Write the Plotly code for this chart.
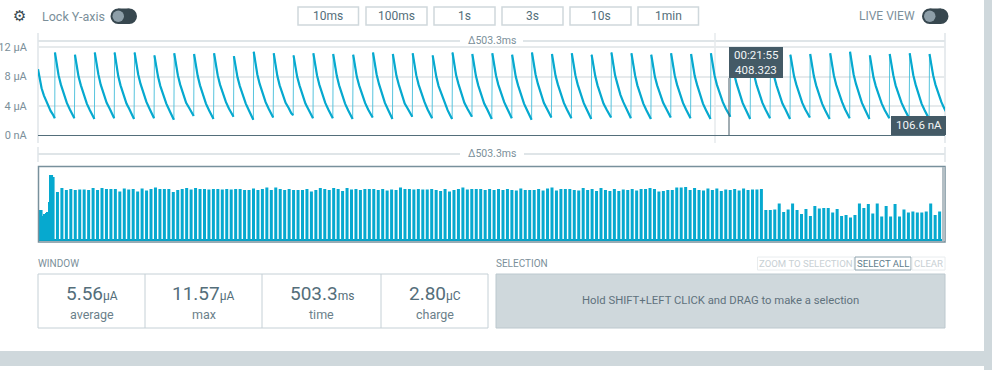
import plotly.graph_objects as go

W, H = 992, 370
FONT = "Roboto"
TEAL = "#06a9cf"
DARK = "#445a66"
GREY = "#7b8f9a"

# ---- top chart data ----
first_times_ms = [0.0, 0.9, 2.0, 3.3, 4.6, 5.8, 7.0, 8.3, 9.3]
first_values = [9.0, 7.6, 6.4, 5.4, 4.6, 3.9, 3.3, 2.8, 2.3]
sample_offsets_ms = [0.0, 0.9, 2.0, 3.3, 5.0, 6.6, 8.3, 9.7, 10.8]
peak_times_ms = [9.4, 20.5, 31.5, 42.5, 53.6, 64.6, 75.6, 86.6, 97.7, 108.7, 119.7, 130.8, 141.8, 152.8, 163.8,
                 174.9, 185.9, 196.9, 207.9, 219.0, 230.0, 241.0, 252.1, 263.1, 274.1, 285.2, 296.2, 307.2, 318.2,
                 329.3, 340.3, 351.3, 362.4, 373.4, 384.4, 395.4, 406.5, 417.5, 428.5, 439.6, 450.6, 461.6, 472.6,
                 483.7, 494.7]
cycles_uA = [
    [11.3, 9.7, 8.2, 6.9, 5.5, 4.4, 3.5, 2.8, 2.3], [11.0, 9.6, 8.0, 6.8, 5.4, 4.3, 3.4, 2.7, 2.2],
    [11.3, 9.8, 8.3, 6.9, 5.6, 4.4, 3.6, 2.8, 2.3], [11.3, 9.7, 8.1, 6.8, 5.4, 4.3, 3.5, 2.7, 2.2],
    [11.3, 9.8, 8.3, 7.0, 5.6, 4.5, 3.6, 2.8, 2.3], [10.9, 9.5, 8.0, 6.7, 5.4, 4.3, 3.4, 2.7, 2.1],
    [11.2, 9.7, 8.2, 6.9, 5.5, 4.4, 3.7, 3.0, 2.6], [11.1, 9.6, 8.1, 6.8, 5.5, 4.3, 3.4, 2.7, 2.2],
    [11.2, 9.7, 8.2, 6.9, 5.6, 4.5, 3.6, 2.9, 2.5], [10.8, 9.4, 7.9, 6.7, 5.4, 4.3, 3.4, 2.7, 2.1],
    [11.4, 9.9, 8.3, 7.0, 5.6, 4.5, 3.6, 2.9, 2.4], [11.2, 9.7, 8.1, 6.8, 5.6, 4.4, 3.7, 3.0, 2.7],
    [10.9, 9.5, 8.0, 6.8, 5.4, 4.3, 3.5, 2.8, 2.3], [11.2, 9.7, 8.2, 6.9, 5.5, 4.4, 3.5, 2.8, 2.3],
    [11.1, 9.6, 8.1, 6.8, 5.5, 4.3, 3.4, 2.7, 2.2], [11.0, 9.5, 8.0, 6.8, 5.5, 4.4, 3.5, 2.8, 2.4],
    [11.3, 9.8, 8.3, 7.0, 5.6, 4.4, 3.5, 2.8, 2.2], [11.1, 9.6, 8.1, 6.9, 5.4, 4.3, 3.6, 2.9, 2.5],
    [11.2, 9.7, 8.2, 6.9, 5.5, 4.5, 3.5, 2.7, 2.3], [10.9, 9.5, 8.0, 6.7, 5.5, 4.3, 3.4, 2.7, 2.2],
    [11.3, 9.8, 8.2, 7.0, 5.6, 4.4, 3.6, 2.9, 2.5], [11.1, 9.6, 8.1, 6.8, 5.4, 4.3, 3.5, 2.7, 2.2],
    [11.2, 9.7, 8.2, 6.9, 5.6, 4.5, 3.6, 2.8, 2.3], [11.0, 9.5, 8.0, 6.8, 5.4, 4.3, 3.4, 2.7, 2.1],
    [11.3, 9.8, 8.3, 7.0, 5.5, 4.4, 3.6, 2.9, 2.4], [11.1, 9.6, 8.1, 6.9, 5.5, 4.4, 3.5, 2.8, 2.3],
    [11.2, 9.7, 8.2, 6.9, 5.6, 4.4, 3.5, 2.7, 2.2], [11.0, 9.6, 8.1, 6.8, 5.4, 4.3, 3.5, 2.8, 2.4],
    [11.3, 9.8, 8.2, 7.0, 5.5, 4.5, 3.6, 2.8, 2.3], [11.2, 9.7, 8.2, 6.8, 5.5, 4.3, 3.4, 2.7, 2.2],
    [11.0, 9.5, 8.0, 6.8, 5.5, 4.4, 3.6, 2.9, 2.4], [11.2, 9.7, 8.2, 6.9, 5.6, 4.4, 3.5, 2.8, 2.3],
    [11.1, 9.6, 8.1, 6.9, 5.4, 4.3, 3.4, 2.7, 2.2], [11.2, 9.7, 8.2, 6.9, 5.5, 4.5, 3.6, 2.9, 2.5],
    [11.3, 9.8, 8.3, 7.0, 5.6, 4.4, 3.5, 2.7, 2.2], [11.3, 9.8, 8.2, 6.9, 5.5, 4.4, 3.5, 2.8, 2.3],
    [11.0, 9.5, 8.0, 6.8, 5.4, 4.3, 3.5, 2.7, 2.2], [11.0, 9.6, 8.1, 6.9, 5.5, 4.4, 3.5, 2.9, 2.4],
    [11.1, 9.6, 8.1, 6.8, 5.5, 4.3, 3.4, 2.7, 2.2], [11.2, 9.7, 8.2, 6.9, 5.6, 4.5, 3.5, 2.8, 2.3],
    [11.4, 9.9, 8.3, 7.0, 5.6, 4.4, 3.5, 2.8, 2.2], [10.9, 9.4, 7.9, 6.7, 5.4, 4.3, 3.4, 2.7, 2.3],
    [11.1, 9.7, 8.2, 6.8, 5.5, 4.4, 3.5, 2.8, 2.3], [11.2, 9.8, 8.2, 6.9, 5.5, 4.3, 3.4, 2.7, 2.2],
    [11.1, 9.6, 8.2, 6.9, 5.6, 4.5, 3.6, 2.9, 2.5],
]

# ---- overview data ----
intro_heights = [30, 30, 30, 24, 26, 27, 28, 38, 65, 65, 63]
main_heights = [
    48, 52, 50, 51, 50, 50.5, 50.5, 50, 52, 50, 52, 51, 51, 51, 48.5, 51.5, 50.5, 51, 48.5, 51.5,
    49.5, 51, 52.5, 51, 51, 51, 48, 50, 51, 52, 50.5, 52, 51, 51, 50.5, 51, 51, 50.5, 51, 50.5,
    51, 51, 50, 50, 51.5, 50, 51, 52.5, 50, 52.5, 51, 50, 51, 50, 50, 50, 51, 48.5, 50, 52,
    51, 50, 52, 51, 49, 52, 50.5, 51, 50, 51, 51, 51, 50, 51, 49.5, 50.5, 50, 52.5, 51, 51,
    50.5, 51, 50.5, 50.5, 51, 50, 49, 51, 48.5, 50, 51, 52.5, 50.5, 51, 51, 51, 50, 51, 50, 51,
    50, 51, 50, 49.5, 51.5, 50, 50, 50, 51, 49.5, 51.5, 52.5, 49.5, 51, 51, 51, 50, 49.5, 52, 50,
    51, 49, 52, 50, 49, 51, 49, 50.5, 50, 51, 49.5, 51, 51, 52,
    51, 48.5, 49, 50, 50, 52.5, 52.5, 53, 50, 52, 50, 49.5, 51.5, 50, 51.5, 49, 50.5, 50, 51, 49.5,
    51.5, 50, 50.5, 50.5, 51,
]
tail_heights = [
    30, 30, 30.5, 36.5, 28, 30.5, 36.5, 30, 26, 31, 24, 34, 31.5, 32, 32, 27.5, 31, 24, 25, 22.5,
    25, 36.5, 32, 36, 26.5, 36.5, 23.5, 34, 23.5, 36, 23.5, 30.5, 27.5, 28.5, 27.5, 27.5, 28.5, 36.5,
    25, 28.5, 29.5,
]

# ---- UI text ----
speed_labels = ["10ms", "100ms", "1s", "3s", "10s", "1min"]
stat_values = ["5.56", "11.57", "503.3", "2.80"]
stat_units = ["µA", "µA", "ms", "µC"]
stat_names = ["average", "max", "time", "charge"]
y_tick_vals = [0, 4, 8, 12]
y_tick_text = ["0 nA", "4 µA", "8 µA", "12 µA"]

# build sawtooth
all_x, all_y, dec_x, dec_y = list(first_times_ms), list(first_values), list(first_times_ms) + [None], list(first_values) + [None]
for start, vals in zip(peak_times_ms, cycles_uA):
    xs = [start + o for o in sample_offsets_ms]
    all_x += xs
    all_y += vals
    dec_x += xs + [None]
    dec_y += vals + [None]

fig = go.Figure()
fig.add_trace(go.Scatter(x=all_x, y=all_y, mode="lines", line=dict(color="#58c5de", width=1), xaxis="x", yaxis="y", hoverinfo="skip"))
fig.add_trace(go.Scatter(x=dec_x, y=dec_y, mode="lines", line=dict(color=TEAL, width=2.2), xaxis="x", yaxis="y", hoverinfo="skip"))

UNIT_PX = 4.42
n_intro = len(intro_heights)
fig.add_trace(go.Bar(x=[(i + 0.5) * 0.34 for i in range(n_intro)], y=intro_heights, width=0.36,
                     marker=dict(color=TEAL, line_width=0), xaxis="x2", yaxis="y2", hoverinfo="skip"))
bars = main_heights + tail_heights
fig.add_trace(go.Bar(x=[4.4 + i * 1.008 for i in range(len(bars))], y=bars, width=0.68,
                     marker=dict(color=TEAL, line_width=0), xaxis="x2", yaxis="y2", hoverinfo="skip"))


def px(x):
    return x / W


def py(y):
    return 1 - y / H


shapes, anns = [], []


def rect(x0, y0, x1, y1, fill=None, line=None, lw=1, layer="below"):
    shapes.append(dict(type="rect", xref="paper", yref="paper", x0=px(x0), x1=px(x1), y0=py(y0), y1=py(y1),
                       fillcolor=fill or "rgba(0,0,0,0)", line=dict(color=line or "rgba(0,0,0,0)", width=lw if line else 0), layer=layer))


def seg(x0, y0, x1, y1, color, lw=1, layer="below"):
    shapes.append(dict(type="line", xref="paper", yref="paper", x0=px(x0), x1=px(x1), y0=py(y0), y1=py(y1),
                       line=dict(color=color, width=lw), layer=layer))


def circle(x0, y0, x1, y1, fill):
    shapes.append(dict(type="circle", xref="paper", yref="paper", x0=px(x0), x1=px(x1), y0=py(y0), y1=py(y1),
                       fillcolor=fill, line_width=0, layer="above"))


def text(x, y, s, size=12, color=GREY, anchor="center", family=FONT):
    anns.append(dict(xref="paper", yref="paper", x=px(x), y=py(y), text=s, showarrow=False, xanchor=anchor, yanchor="middle",
                     font=dict(family=family, size=size, color=color), borderpad=0, borderwidth=0))


# page background elements
rect(0, 351, 992, 366, fill="#cfd8dc")
rect(984, 0, 992, 370, fill="#cfd8dc")

# header
text(19.5, 16, "⚙", 15, "#37474f", family="DejaVu Sans")
text(42, 16, "Lock Y-axis", 12.5, GREY, "left")
text(859, 16, "LIVE VIEW", 12, GREY, "left")
for x0 in (110.5, 922):
    circle(x0, 8.5, x0 + 15.5, 24, "#37474f")
    circle(x0 + 11, 8.5, x0 + 26.5, 24, "#37474f")
    rect(x0 + 7.7, 8.5, x0 + 18.8, 24, fill="#37474f", layer="above")
    circle(x0 + 2, 10.5, x0 + 13.5, 22, "#8d9ea8")

btn_x = [(298, 358.5), (366, 427), (434, 495), (502, 563), (570, 631), (638, 698.5)]
for (a, b), lab in zip(btn_x, speed_labels):
    rect(a, 7, b, 25, fill="white", line="#cfd8dc", lw=1.5)
    text((a + b) / 2, 16, lab, 12, "#546e7a")

# delta bars
seg(38, 41, 945, 41, "#dfe5e8", 2)
seg(38, 154, 945, 154, "#dfe5e8", 2)
seg(38, 33, 38, 143, "#dfe5e8", 1.5)
seg(945, 33, 945, 143, "#dfe5e8", 1.5)
seg(38, 147, 38, 162, "#dfe5e8", 1.5)
seg(945, 147, 945, 162, "#dfe5e8", 1.5)
seg(715, 33, 715, 143, "#e6eaec", 1.5)
rect(460, 35, 523, 47, fill="white")
rect(460, 148, 524, 160, fill="white")
text(492, 40.5, "Δ503.3ms", 10.5, GREY)
text(492, 153, "Δ503.3ms", 10.5, GREY)

# cursor + value boxes (on top of data)
seg(729, 78, 729, 135, "#445a66", 1, "above")
rect(729, 47, 783, 78, fill=DARK, layer="above")
text(756, 55, "00:21:55", 11.5, "#f2f5f6")
text(756, 70, "408.323", 11.5, "#f2f5f6")
rect(891, 116, 946, 135, fill=DARK, layer="above")
text(918.5, 125, "106.6 nA", 11.5, "#f2f5f6")

# overview frame
rect(38.5, 166.5, 945, 242, line="#78909c", lw=1.5, layer="above")
rect(942, 167, 945, 241, fill="#b4bfc5", layer="above")

# stats
text(38, 263, "WINDOW", 10, GREY, "left")
text(496, 263, "SELECTION", 10, GREY, "left")
rect(38, 274, 488, 328, line="#c5d0d6", lw=1)
for xd in (145, 262, 381):
    seg(xd, 274, xd, 328, "#c5d0d6", 1)
centers = [91.5, 203.5, 321.5, 434.5]
for cx, v, u, nm in zip(centers, stat_values, stat_units, stat_names):
    text(cx, 293, f'<span style="font-size:19px">{v}</span><span style="font-size:12px">{u}</span>', 19, "#546e7a")
    text(cx, 314, nm, 12.5, "#6b7f8a")

# selection panel
rect(496, 274, 945, 328, fill="#cfd8dc", line="#bcc8ce", lw=1)
text(720.5, 300.5, "Hold SHIFT+LEFT CLICK and DRAG to make a selection", 11.3, "#5f727c")
rect(757.5, 257, 854, 270, line="#e8ecee", lw=1)
rect(855, 257, 911, 270, line="#90a4ae", lw=1)
rect(912, 257, 945, 270, line="#e8ecee", lw=1)
text(806, 263.5, "ZOOM TO SELECTION", 9.6, "#c8d0d4")
text(883, 263.5, "SELECT ALL", 9.6, "#607d8b")
text(928.5, 263.5, "CLEAR", 9.6, "#c8d0d4")

PX_PER_UA = 7.3
fig.update_layout(
    width=W, height=H, margin=dict(l=0, r=0, t=0, b=0, autoexpand=False), autosize=False,
    paper_bgcolor="white", plot_bgcolor="rgba(0,0,0,0)", showlegend=False, barmode="overlay",
    shapes=shapes, annotations=anns,
    xaxis=dict(domain=[px(38), px(945)], range=[0, 503.3], visible=False, fixedrange=True, automargin=False),
    yaxis=dict(domain=[py(143), py(33)], range=[-8 / PX_PER_UA, 102 / PX_PER_UA], tickvals=y_tick_vals, ticktext=y_tick_text,
               showgrid=True, gridcolor="#e6eaec", gridwidth=1.5, zeroline=True, zerolinecolor="#546e7a", zerolinewidth=1,
               ticks="outside", ticklen=8, tickcolor="rgba(0,0,0,0)", showline=False, automargin=False,
               tickfont=dict(family=FONT, size=11, color=GREY), fixedrange=True),
    xaxis2=dict(domain=[px(38), px(945)], range=[0, 907 / UNIT_PX], visible=False, anchor="y2", fixedrange=True, automargin=False),
    yaxis2=dict(domain=[py(241), py(167)], range=[-1, 73], visible=True, showticklabels=False, ticks="", showgrid=False, automargin=False,
                showline=False, zeroline=True, zerolinecolor="#0b9fc2", zerolinewidth=2, anchor="x2", fixedrange=True),
)
fig.write_html("out.html", config={"displayModeBar": False},
               post_script="document.body.style.margin='0';document.documentElement.style.overflow='hidden';")
